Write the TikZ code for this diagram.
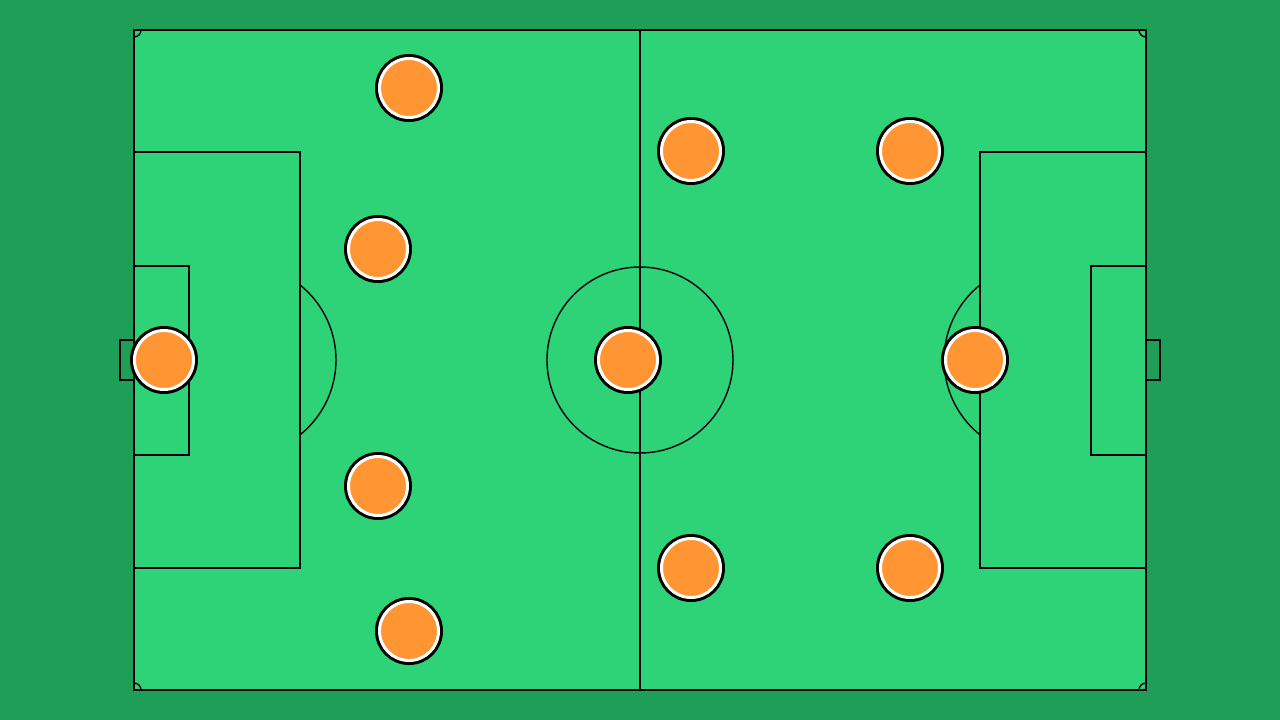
\documentclass[tikz,border=0pt]{standalone}
\begin{document}
\begin{tikzpicture}[x=1pt,y=-1pt,
  line/.style={draw=black,line width=1.4pt},
  player/.style={circle,minimum size=59pt,inner sep=0pt,outer sep=0pt,fill=orangeP,draw=white,line width=3pt,preaction={draw=black,line width=9pt}}]
\definecolor{bgG}{HTML}{1E9E57}
\definecolor{pitchG}{HTML}{2ED277}
\definecolor{orangeP}{HTML}{FF9533}
\fill[bgG] (0,0) rectangle (1280,720);
\useasboundingbox (0,0) rectangle (1280,720);
% pitch
\fill[pitchG] (134,30) rectangle (1146,690);
% goals
\draw[line] (134,340) -- (120,340) -- (120,380) -- (134,380);
\draw[line] (1146,340) -- (1160,340) -- (1160,380) -- (1146,380);
\draw[line] (134,30) rectangle (1146,690);
\draw[line] (640,30) -- (640,690);
\draw[line] (640,360) circle (93);
% penalty areas
\draw[line] (134,152) -- (300,152) -- (300,568) -- (134,568);
\draw[line] (134,266) -- (189,266) -- (189,455) -- (134,455);
\draw[line] (1146,152) -- (980,152) -- (980,568) -- (1146,568);
\draw[line] (1146,266) -- (1091,266) -- (1091,455) -- (1146,455);
% penalty arcs
\draw[line] (300,285) arc[start angle=-51.3,end angle=51.3,radius=96];
\draw[line] (980,285) arc[start angle=231.3,end angle=128.7,radius=96];
% corner arcs
\draw[line] (141,30) arc[start angle=0,end angle=90,radius=7];
\draw[line] (1139,30) arc[start angle=180,end angle=90,radius=7];
\draw[line] (141,690) arc[start angle=0,end angle=-90,radius=7];
\draw[line] (1139,690) arc[start angle=180,end angle=270,radius=7];
% players
\node[player] (gk) at (164,360) {};
\node[player] (d1) at (409,88) {};
\node[player] (d2) at (378,249) {};
\node[player] (d3) at (378,486) {};
\node[player] (d4) at (409,631) {};
\node[player] (c) at (628,360) {};
\node[player] (m1) at (691,151) {};
\node[player] (m2) at (691,568) {};
\node[player] (f1) at (910,151) {};
\node[player] (f2) at (910,568) {};
\node[player] (f3) at (975,360) {};
\end{tikzpicture}
\end{document}
